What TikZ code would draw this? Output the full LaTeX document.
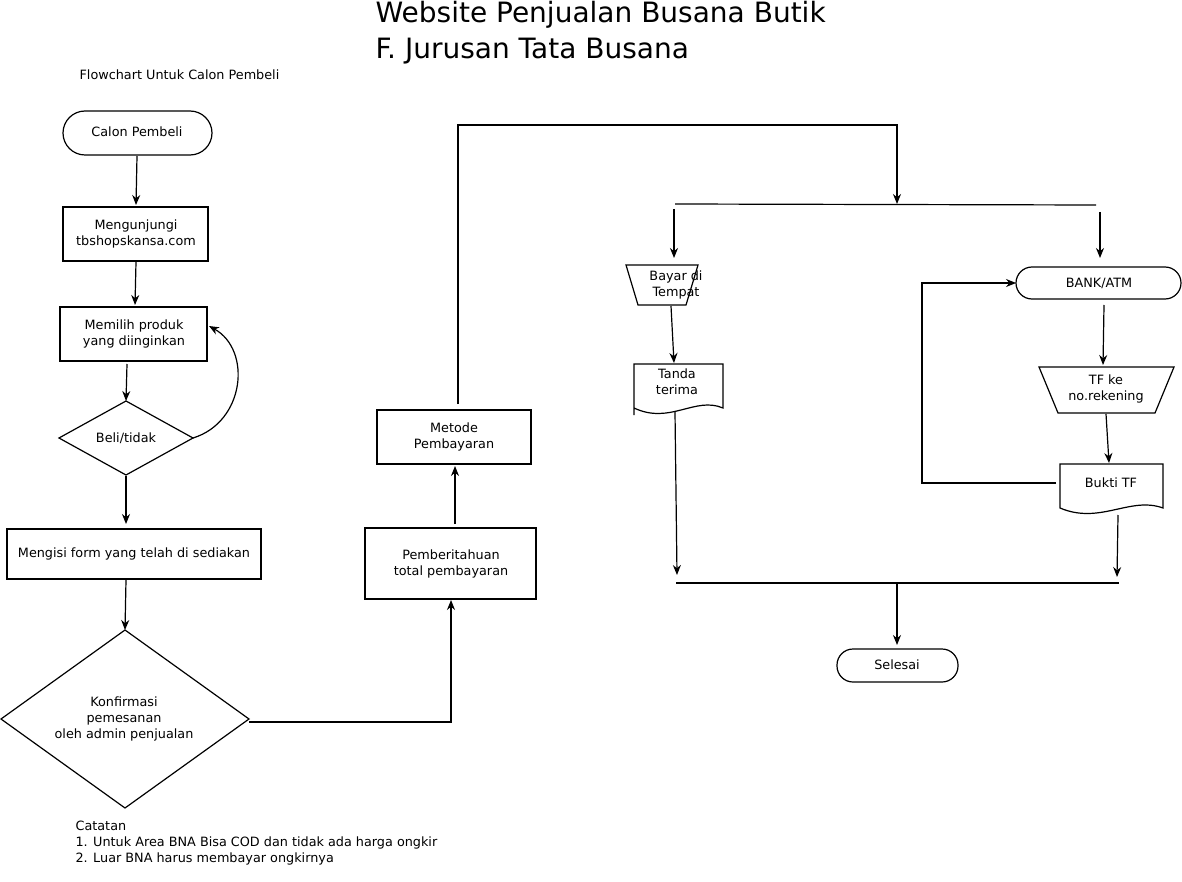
\documentclass[tikz,border=0pt]{standalone}
\usepackage{fontspec}
\setmainfont{DejaVu Sans}
\usetikzlibrary{arrows.meta,shapes.geometric}
\begin{document}
\begin{tikzpicture}[x=1pt,y=-1pt,line width=1.2pt,
 arr/.style={-{Stealth[length=10pt,width=8pt]}},
 txt/.style={font=\fontsize{12.8}{16}\selectfont,align=center,inner sep=0pt}]
\useasboundingbox (0,0) rectangle (1182,882);
\node[anchor=north west,align=left,font=\fontsize{28}{36}\selectfont,inner sep=0pt] (title) at (375,1) {Website Penjualan Busana Butik\\F. Jurusan Tata Busana};
\node[anchor=west,txt] (fc) at (79,75) {Flowchart Untuk Calon Pembeli};
% left column
\draw[rounded corners=22pt] (63,111) rectangle (212,155);
\node[txt] (cp) at (137,132) {Calon Pembeli};
\draw (63,207) rectangle (208,261); \node[txt] (mg) at (136,234) {Mengunjungi\\tbshopskansa.com};
\draw (60,307) rectangle (207,361); \node[txt] (mp) at (134,334) {Memilih produk\\yang diinginkan};
\draw (59,438) -- (126,401) -- (193,438) -- (126,475) -- cycle; \node[txt] (bt) at (126,438) {Beli/tidak};
\draw (7,529) rectangle (261,579); \node[txt] (mf) at (134,554) {Mengisi form yang telah di sediakan};
\draw (1,719) -- (125,630) -- (249,719) -- (125,808) -- cycle; \node[txt] (kf) at (124,719) {Konfirmasi\\pemesanan\\oleh admin penjualan};
\draw[arr] (137,156) -- (136,205);
\draw[arr] (136,262) -- (135,305);
\draw[arr] (127,364) -- (126,401);
\draw[arr] (126,476) -- (126,524);
\draw[arr] (126,580) -- (125,630);
\draw[arr] (193,438) .. controls (245,422) and (252,350) .. (209,326);
% middle
\draw (365,528) rectangle (536,599); \node[txt] (pb) at (451,564) {Pemberitahuan\\total pembayaran};
\draw (377,410) rectangle (531,464); \node[txt] (mt) at (454,437) {Metode\\Pembayaran};
\draw[arr] (249,722) -- (451,722) -- (451,600);
\draw[arr] (455,524) -- (455,466);
\draw[arr] (458,404) -- (458,125) -- (897,125) -- (897,204);
\draw (675,204) -- (1096,205);
\draw[arr] (674,209) -- (674,258);
\draw[arr] (1100,212) -- (1100,258);
% right
\draw (626,265) -- (698,265) -- (686,305) -- (638,305) -- cycle; \node[txt] (bd) at (676,285) {Bayar di\\Tempat};
\draw (634,415) -- (634,364) -- (723,364) -- (723,408) .. controls (695,396) and (670,425) .. (634,408);
\node[txt] (tt) at (677,382) {Tanda\\terima};
\draw[arr] (671,306) -- (674,363);
\draw[arr] (675,412) -- (677,575);
\draw[rounded corners=16pt] (1016,267) rectangle (1181,299); \node[txt] (ba) at (1099,283) {BANK/ATM};
\draw (1039,367) -- (1174,367) -- (1155,413) -- (1058,413) -- cycle; \node[txt] (tf) at (1106,389) {TF ke\\no.rekening};
\draw (1060,464) -- (1163,464) -- (1163,508) .. controls (1130,496) and (1100,525) .. (1060,508) -- cycle;
\node[txt] (bk) at (1111,483) {Bukti TF};
\draw[arr] (1104,305) -- (1103,365);
\draw[arr] (1106,414) -- (1109,463);
\draw[arr] (1056,483) -- (922,483) -- (922,283) -- (1016,283);
\draw[arr] (1118,515) -- (1117,577);
\draw[line width=1.8pt] (676,583) -- (1119,583);
\draw[arr] (897,583) -- (897,645);
\draw[rounded corners=16pt] (837,649) rectangle (958,682); \node[txt] (sl) at (897,665) {Selesai};
\node[anchor=north west,align=left,font=\fontsize{12.8}{16}\selectfont,inner sep=0pt] (ct) at (75,820) {Catatan\\1. Untuk Area BNA Bisa COD dan tidak ada harga ongkir\\2. Luar BNA harus membayar ongkirnya};
\end{tikzpicture}
\end{document}
